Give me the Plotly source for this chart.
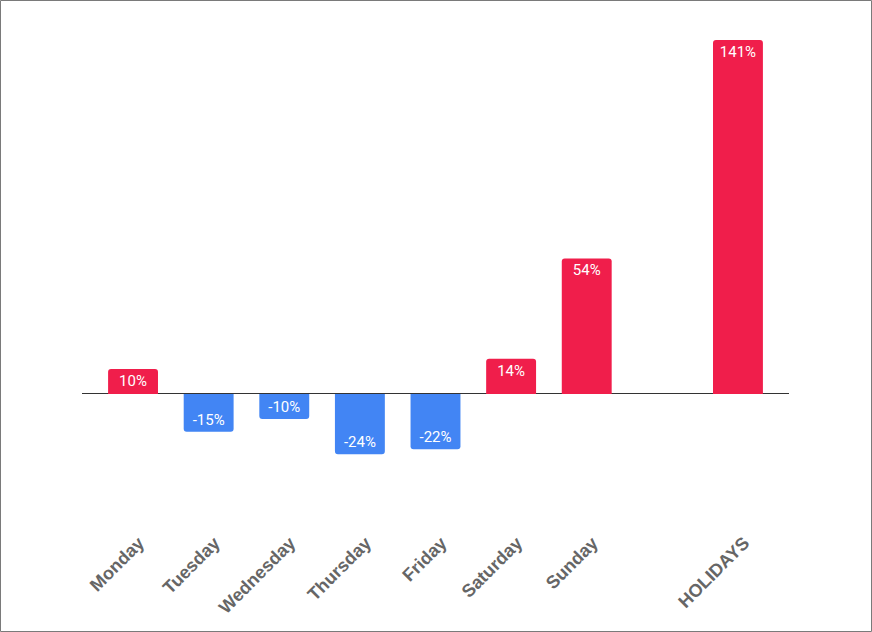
import plotly.graph_objects as go

# data
days = ["Monday", "Tuesday", "Wednesday", "Thursday", "Friday", "Saturday", "Sunday", " ", "HOLIDAYS"]
change_pct = [10, -15, -10, -24, -22, 14, 54, None, 141]

RED = "#F01E4B"
BLUE = "#4285F4"
colors = [RED if (v is not None and v >= 0) else BLUE for v in change_pct]
labels = ["" if v is None else f"{v}%" for v in change_pct]

W, H = 872, 632
L, R, T, B = 82, 83, 30, 112
pw, ph = W - L - R, H - T - B

fig = go.Figure()
fig.add_trace(go.Bar(
    x=days, y=change_pct, width=0.66,
    marker=dict(color=colors, cornerradius=3, line=dict(width=0)),
    text=labels, textposition="inside", insidetextanchor="end",
    textfont=dict(family="Roboto", size=15, color="white"),
    textangle=0, cliponaxis=False, showlegend=False,
))

# thin grey frame round the whole picture
fig.add_shape(type="rect", xref="paper", yref="paper",
              x0=(0.5 - L) / pw, x1=(W - 0.5 - L) / pw,
              y0=(T + ph - (H - 0.5)) / ph, y1=(T + ph - 0.5) / ph,
              line=dict(color="#7a7a7a", width=1))

# rotated labels sit a little right of the bar centre in the original
tick_pos = [i + 0.08 for i in range(len(days))]

fig.update_layout(
    width=W, height=H,
    margin=dict(l=L, r=R, t=T, b=B),
    paper_bgcolor="white", plot_bgcolor="white",
    uniformtext=dict(minsize=15, mode="show"),
    xaxis=dict(range=[-0.675, 8.675], tickangle=-45, showgrid=False, showline=False,
               ticks="", ticklabelstandoff=8,
               tickmode="array", tickvals=tick_pos, ticktext=[f"<b>{d}</b>" for d in days],
               tickfont=dict(family="Liberation Sans", size=18, color="#666666")),
    yaxis=dict(range=[-50.2, 145], showgrid=False, showticklabels=False, ticks="",
               zeroline=True, zerolinecolor="#333333", zerolinewidth=1),
)

# page body has a default 8px margin, drop it so the chart sits at the corner
fig.write_html("out.html", config={"displayModeBar": False},
               post_script="document.body.style.margin='0';")
